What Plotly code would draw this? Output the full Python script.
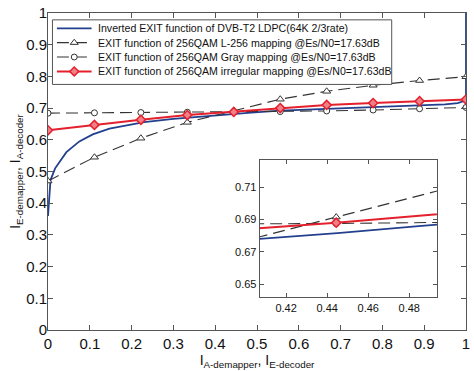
import plotly.graph_objects as go

# ---- data ----
x_pts = [0.0, 0.1111, 0.2222, 0.3333, 0.4444, 0.5556, 0.6667, 0.7778, 0.8889, 1.0]
l256 = [0.470, 0.545, 0.605, 0.655, 0.6915, 0.728, 0.753, 0.772, 0.787, 0.799]
gray = [0.684, 0.685, 0.686, 0.687, 0.6875, 0.689, 0.691, 0.694, 0.698, 0.702]
irreg = [0.630, 0.647, 0.663, 0.678, 0.688, 0.700, 0.710, 0.716, 0.722, 0.727]

ldpc_x = [0.0, 0.003, 0.006, 0.017, 0.044, 0.075, 0.107, 0.147, 0.2, 0.23, 0.3,
          0.35, 0.407, 0.445, 0.486, 0.556, 0.667, 0.778, 0.889, 0.95, 0.98, 0.995, 1.0, 1.0]
ldpc_y = [0.36, 0.44, 0.473, 0.51, 0.561, 0.595, 0.617, 0.635, 0.648, 0.656, 0.666,
          0.672, 0.678, 0.6815, 0.686, 0.692, 0.698, 0.703, 0.709, 0.712, 0.716, 0.722, 0.74, 1.0]

names = ["Inverted EXIT function of DVB-T2 LDPC(64K 2/3rate)",
         "EXIT function of 256QAM L-256 mapping @Es/N0=17.63dB",
         "EXIT function of 256QAM Gray mapping @Es/N0=17.63dB",
         "EXIT function of 256QAM irregular mapping @Es/N0=17.63dB"]

main_ticks = [0, 0.1, 0.2, 0.3, 0.4, 0.5, 0.6, 0.7, 0.8, 0.9, 1]
inset_xticks = [0.42, 0.44, 0.46, 0.48]
inset_yticks = [0.65, 0.67, 0.69, 0.71]

BLUE = "#23408e"
RED = "#e3202c"
DARK = "#333333"
PINK = "#f08088"
FONT = "Liberation Sans, Arial, sans-serif"

W, H = 474, 371
ML, MR, MT, MB = 48, 4, 6, 41
PW, PH = W - ML - MR, H - MT - MB

fig = go.Figure()

styles = [
    dict(mode="lines", line=dict(color=BLUE, width=1.8)),
    dict(mode="lines+markers", line=dict(color=DARK, width=1.1, dash="12px,6px"),
         marker=dict(symbol="triangle-up", size=7, color="white", line=dict(color=DARK, width=1))),
    dict(mode="lines+markers", line=dict(color=DARK, width=1.1, dash="12px,6px"),
         marker=dict(symbol="circle", size=6, color="white", line=dict(color=DARK, width=1))),
    dict(mode="lines+markers", line=dict(color=RED, width=2),
         marker=dict(symbol="diamond", size=7, color=PINK, line=dict(color=RED, width=1.5))),
]
series = [(ldpc_x, ldpc_y), (x_pts, l256), (x_pts, gray), (x_pts, irreg)]

for xa, ya in (("x", "y"), ("x2", "y2")):
    for (sx, sy), st, nm in zip(series, styles, names):
        fig.add_trace(go.Scatter(x=sx, y=sy, name=nm, xaxis=xa, yaxis=ya,
                                 showlegend=False, hoverinfo="skip", **st))

# ---- legend box drawn as layout decoration (paper coordinates) ----
def px(xp):
    return (xp - ML) / PW


def py(yp):
    return (H - MB - yp) / PH


shapes = [dict(type="rect", xref="paper", yref="paper", layer="above",
               x0=px(52.5), x1=px(395), y0=py(79), y1=py(13),
               fillcolor="white", line=dict(color="#555555", width=1))]
annotations = []
row_y = [21.7, 36.3, 51.0, 65.7]
for i, (st, nm) in enumerate(zip(styles, names)):
    yc = row_y[i]
    ln = st["line"]
    shapes.append(dict(type="line", xref="paper", yref="paper", layer="above",
                       x0=px(57), x1=px(92), y0=py(yc), y1=py(yc),
                       line=dict(color=ln["color"], width=ln["width"],
                                 dash=ln.get("dash", "solid"))))
    annotations.append(dict(text=nm, xref="paper", yref="paper", x=px(96), y=py(yc),
                            xanchor="left", yanchor="middle", showarrow=False,
                            font=dict(size=10.6, family=FONT, color="#111111")))
    if "marker" in st:
        mk = st["marker"]
        cx = 74.5
        r = mk["size"] / 2.0
        sym = mk["symbol"]
        if sym == "circle":
            shapes.append(dict(type="circle", xref="paper", yref="paper", layer="above",
                               x0=px(cx - r), x1=px(cx + r), y0=py(yc + r), y1=py(yc - r),
                               fillcolor=mk["color"], line=mk["line"]))
        else:
            if sym == "triangle-up":
                rt = r * 2 / 3 ** 0.5
                pts = [(cx - rt, yc + r / 2), (cx + rt, yc + r / 2), (cx, yc - r)]
            else:
                rd = r * 1.3
                pts = [(cx + rd, yc), (cx, yc + rd), (cx - rd, yc), (cx, yc - rd)]
            path = "M" + " L".join(f"{px(a):.5f},{py(b):.5f}" for a, b in pts) + " Z"
            shapes.append(dict(type="path", xref="paper", yref="paper", layer="above",
                               path=path, fillcolor=mk["color"], line=mk["line"]))

axis_common = dict(showline=True, linecolor="#555555", linewidth=1, mirror="ticks",
                   ticks="inside", tickcolor="#555555", showgrid=False, zeroline=False,
                   ticklabeloverflow="allow")

fig.update_layout(
    width=W, height=H,
    margin=dict(l=ML, r=MR, t=MT, b=MB),
    paper_bgcolor="white", plot_bgcolor="white",
    font=dict(family=FONT, color="#111111"),
    showlegend=False,
    shapes=shapes, annotations=annotations,
    xaxis=dict(range=[0, 1], tickvals=main_ticks, ticklen=5,
               tickfont=dict(size=15), domain=[0, 1],
               title=dict(text="I<sub>A-demapper</sub>, I<sub>E-decoder</sub>",
                          font=dict(size=14), standoff=4),
               **axis_common),
    yaxis=dict(range=[0, 1], tickvals=main_ticks, ticklen=5,
               tickfont=dict(size=15), domain=[0, 1], ticklabelstandoff=-3,
               title=dict(text="I<sub>E-demapper</sub>, I<sub>A-decoder</sub>",
                          font=dict(size=14), standoff=2),
               **axis_common),
    xaxis2=dict(range=[0.4071, 0.4935], tickvals=inset_xticks, ticklen=4,
                tickfont=dict(size=11), domain=[0.5064, 0.9306], anchor="y2",
                **axis_common),
    yaxis2=dict(range=[0.6417, 0.727], tickvals=inset_yticks, ticklen=4,
                tickfont=dict(size=11), domain=[0.1028, 0.537], anchor="x2",
                **axis_common),
)

fig.write_html("out.html", post_script="document.body.style.margin='0';",
               config={"displayModeBar": False})
